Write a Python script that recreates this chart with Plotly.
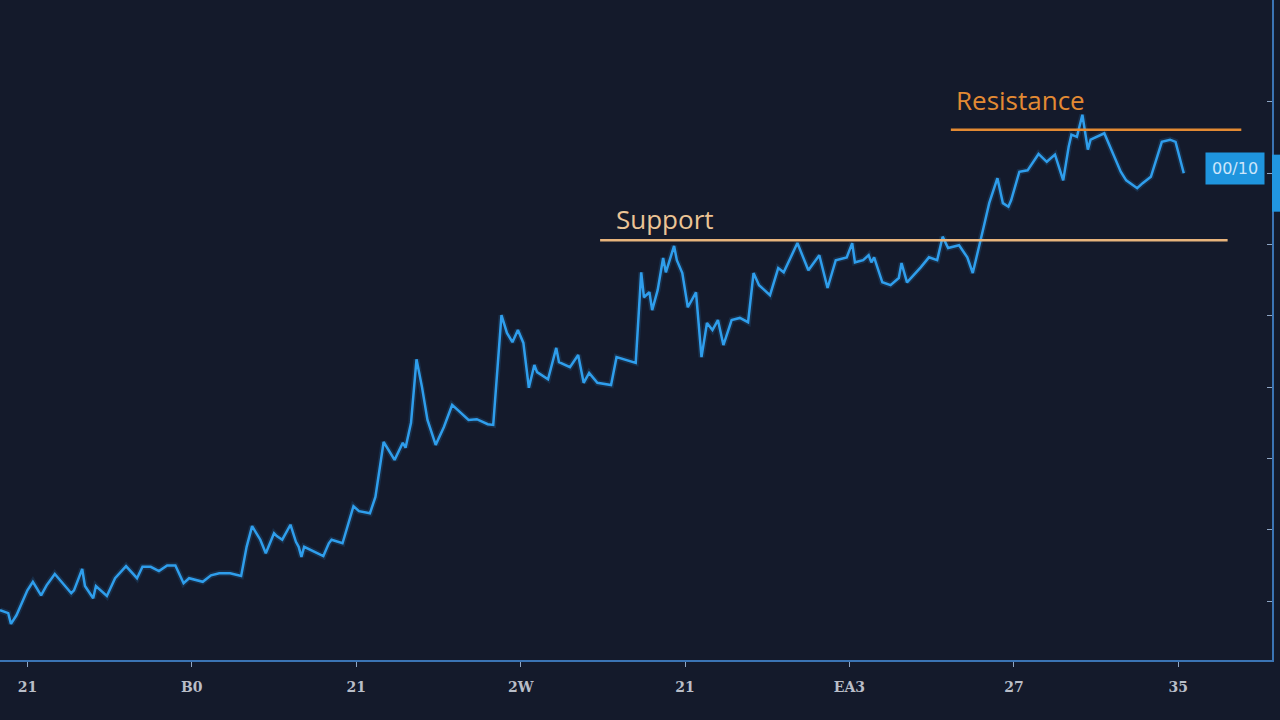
import plotly.graph_objects as go

# ---- data (day index, price) ----
days = [0, 3, 4, 6, 10, 12, 15, 17, 20, 23, 26, 27, 30, 31, 34, 35, 39, 42, 46, 50,
        52, 55, 58, 61, 64, 67, 69, 74, 77, 80, 84, 88, 90, 92, 95, 97, 100, 101, 103, 106,
        108, 109, 110, 111, 115, 118, 120, 121, 125, 127, 129, 131, 135, 137, 140, 144, 147, 148, 150, 152,
        154, 156, 159, 162, 165, 167, 171, 174, 178, 180, 183, 185, 187, 189, 191, 193, 195, 196, 200, 203,
        204, 208, 211, 213, 215, 218, 223, 225, 229, 232, 234, 235, 237, 238, 240, 242, 243, 246, 247, 249,
        251, 254, 256, 258, 260, 262, 264, 267, 270, 273, 275, 277, 281, 284, 286, 291, 295, 299, 302, 305,
        309, 311, 312, 315, 317, 318, 319, 322, 325, 328, 329, 331, 336, 339, 342, 344, 346, 350, 353, 355,
        359, 361, 364, 366, 368, 369, 372, 375, 379, 382, 385, 388, 390, 391, 393, 395, 397, 398, 403, 406,
        409, 411, 415, 417, 420, 424, 427, 429, 432]
price = [8.7, 8.3, 6.8, 8.0, 11.5, 12.7, 10.8, 12.2, 13.8, 12.4, 11.1, 11.5, 14.5, 12.1, 10.4, 12.1, 10.7, 13.2, 14.9, 13.2,
         14.8, 14.8, 14.2, 15.0, 15.0, 12.5, 13.2, 12.7, 13.6, 13.9, 13.9, 13.5, 17.6, 20.5, 18.6, 16.7, 19.5, 19.1, 18.6, 20.7,
         18.3, 17.6, 16.2, 17.6, 16.9, 16.3, 18.1, 18.6, 18.1, 20.9, 23.3, 22.6, 22.3, 24.6, 32.3, 29.8, 32.2, 31.5, 35.0, 43.9,
         40.0, 35.4, 31.9, 34.4, 37.5, 36.8, 35.4, 35.5, 34.8, 34.7, 50.1, 47.6, 46.3, 48.0, 46.2, 39.9, 43.1, 42.1, 41.1, 45.5,
         43.5, 42.8, 44.5, 40.6, 42.0, 40.6, 40.3, 44.2, 43.8, 43.4, 56.1, 52.6, 53.3, 50.8, 53.6, 58.1, 56.1, 59.8, 57.8, 56.0,
         51.2, 53.3, 44.2, 49.0, 48.0, 49.4, 45.9, 49.4, 49.7, 49.1, 56.0, 54.3, 52.9, 56.7, 56.1, 60.2, 56.4, 58.5, 53.9, 57.8,
         58.2, 60.2, 57.5, 57.8, 58.5, 57.5, 58.2, 54.7, 54.3, 55.3, 57.4, 54.7, 56.8, 58.2, 57.8, 61.1, 59.5, 59.9, 58.2, 56.0,
         62.5, 65.8, 69.3, 65.8, 65.3, 66.2, 70.2, 70.4, 72.7, 71.6, 72.6, 69.0, 73.7, 75.4, 75.1, 78.2, 73.3, 74.7, 75.6, 72.8,
         70.2, 69.0, 67.9, 68.6, 69.5, 74.4, 74.7, 74.4, 70.0]

support_level = 60.6
support_span = [219, 448]
resistance_level = 76.1
resistance_span = [347, 453]

tick_days = [10, 70, 130, 190, 250, 310, 370, 430]
tick_text = ["21", "B0", "21", "2W", "21", "EA3", "27", "35"]

last_price_text = "00/10"
last_price_y = 70.7
last_price_x = 450.7

BG = "#141a2b"
LINE = "#2f9eec"
AXIS = "#3b74b4"

fig = go.Figure()

# soft glow under the price line
fig.add_trace(go.Scatter(x=days, y=price, mode="lines",
                         line=dict(color="rgba(46,155,234,0.15)", width=6),
                         hoverinfo="skip", showlegend=False))
fig.add_trace(go.Scatter(x=days, y=price, mode="lines",
                         line=dict(color=LINE, width=2.5),
                         showlegend=False))

fig.add_trace(go.Scatter(x=support_span, y=[support_level] * 2, mode="lines",
                         line=dict(color="#e8b47c", width=2.6), showlegend=False))
fig.add_trace(go.Scatter(x=resistance_span, y=[resistance_level] * 2, mode="lines",
                         line=dict(color="#e38a33", width=2.6), showlegend=False))

fig.add_annotation(x=support_span[0], y=support_level, xanchor="left", yanchor="bottom",
                   xshift=14, yshift=1, text="Support", showarrow=False,
                   font=dict(family="Open Sans", size=26, color="#ecc495"))
fig.add_annotation(x=resistance_span[0], y=resistance_level, xanchor="left", yanchor="bottom",
                   xshift=3, yshift=10, text="Resistance", showarrow=False,
                   font=dict(family="Open Sans", size=26, color="#e38a33"))

fig.add_annotation(x=last_price_x, y=last_price_y, text=last_price_text, showarrow=False,
                   bgcolor="#1f95de", borderpad=6,
                   font=dict(family="DejaVu Sans", size=16, color="#cde6fb"))

fig.add_shape(type="rect", xref="paper", yref="y", x0=1.0, x1=1.012,
              y0=64.6, y1=72.6, fillcolor="#2196e0", line=dict(width=0))

fig.update_layout(
    width=1280, height=720,
    paper_bgcolor=BG, plot_bgcolor=BG,
    margin=dict(l=0, r=8, t=0, b=60),
    showlegend=False,
    xaxis=dict(range=[0, 464.2], showgrid=False, zeroline=False,
               showline=True, linecolor=AXIS, linewidth=2,
               ticks="outside", ticklen=5, tickcolor="#8fa6c4", tickwidth=1,
               tickvals=tick_days, ticktext=tick_text, ticklabelstandoff=8,
               tickfont=dict(family="DejaVu Serif", size=14, color="#b9bec8", weight=700)),
    yaxis=dict(range=[1.73, 94.29], side="right", showgrid=False, zeroline=False,
               showline=True, linecolor=AXIS, linewidth=2,
               ticks="inside", ticklen=5, tickcolor="#8fa6c4", tickwidth=1,
               tickvals=[10, 20, 30, 40, 50, 60, 70, 80],
               showticklabels=False),
)

fig.write_html(
    "out.html",
    config={"displayModeBar": False},
    post_script="document.body.style.margin='0';document.body.style.overflow='hidden';"
                "document.body.style.background='#141a2b';",
)
